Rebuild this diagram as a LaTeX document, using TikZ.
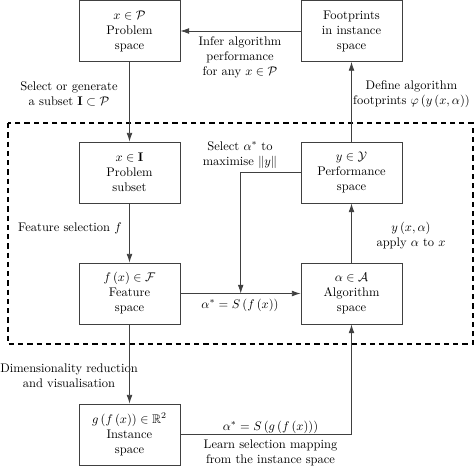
\documentclass[tikz,border=0pt]{standalone}
\usepackage{amsmath,amssymb}
\usetikzlibrary{arrows.meta,calc}

\tikzset{>={Latex[length=7pt,width=4.6pt]}}

\begin{document}
\begin{tikzpicture}[x=.8pt, y=-.8pt,
	caja/.style={draw=black!75, line width=.6pt, minimum width=80.8pt, minimum height=48.8pt, align=center, inner sep=0pt},
	etiq/.style={align=center, inner sep=0pt},
	flecha/.style={->, draw=black!75, line width=.6pt}]
\useasboundingbox (0,0) rectangle (474,467);

%%%%%%%%%%%%%%%%%%%%%%%%%%%%%%%%%%%%%%%%%%%%%%%%	MARCO PUNTEADO
\draw[black, line width=1pt, dash pattern=on 4.2pt off 3.2pt]
(8,123) rectangle (473,344);

%%%%%%%%%%%%%%%%%%%%%%%%%%%%%%%%%%%%%%%%%%%%%%%%	CAJAS
\node[caja] (prob) at (129.5,31) {$x\in\mathcal{P}$\\ Problem\\ space};
\node[caja] (foot) at (351.5,31) {Footprints\\ in instance\\ space};
\node[caja] (sub)  at (129.5,172.5) {$x\in\mathbf{I}$\\ Problem\\ subset};
\node[caja] (perf) at (351.5,172.5) {$y\in\mathcal{Y}$\\ Performance\\ space};
\node[caja] (feat) at (129.5,293.5) {$f\left(x\right)\in\mathcal{F}$\\ Feature\\ space};
\node[caja] (alg)  at (351.5,293.5) {$\alpha\in\mathcal{A}$\\ Algorithm\\ space};
\node[caja] (inst) at (129.5,434.5) {$g\left(f\left(x\right)\right)\in\mathbb{R}^2$\\ Instance\\ space};

%%%%%%%%%%%%%%%%%%%%%%%%%%%%%%%%%%%%%%%%%%%%%%%%	ETIQUETAS
\node[etiq] (infer)  at (240,57)  {Infer algorithm\\ performance\\ for any $x\in\mathcal{P}$};
\node[etiq] (selgen) at (69,94)   {Select or generate\\ a subset $\mathbf{I}\subset\mathcal{P}$};
\node[etiq] (defin)  at (411.5,94) {Define algorithm\\ footprints $\varphi\left(y\left(x,\alpha\right)\right)$};
\node[etiq] (maxim)  at (240,155) {Select $\alpha^{*}$ to\\ maximise $\|y\|$};
\node[etiq] (fsel)   at (70,228)  {Feature selection $f$};
\node[etiq] (apply)  at (411,236) {$y\left(x,\alpha\right)$\\ apply $\alpha$ to $x$};
\node[etiq] (sf)     at (240,305) {$\alpha^{*}=S\left(f\left(x\right)\right)$};
\node[etiq] (dimred) at (69,376)  {Dimensionality reduction\\ and visualisation};
\node[etiq] (sg)     at (270.5,427) {$\alpha^{*}=S\left(g\left(f\left(x\right)\right)\right)$};
\node[etiq] (learn)  at (270.5,453) {Learn selection mapping\\ from the instance space};

%%%%%%%%%%%%%%%%%%%%%%%%%%%%%%%%%%%%%%%%%%%%%%%%	FLECHAS
\coordinate (cruce) at (240.7,293.5);		%%%%	donde baja la flecha de seleccion

\draw[flecha] (foot.west) -- (prob.east);
\draw[flecha] (prob.south) -- (sub.north);
\draw[flecha] (perf.north) -- (foot.south);
\draw[flecha] (sub.south) -- (feat.north);
\draw[flecha] (feat.east) -- (alg.west);
\draw[flecha] (perf.west) -| (cruce);
\draw[flecha] (alg.north) -- (perf.south);
\draw[flecha] (feat.south) -- (inst.north);
\draw[flecha] (inst.east) -| (alg.south);

\end{tikzpicture}
\end{document}
